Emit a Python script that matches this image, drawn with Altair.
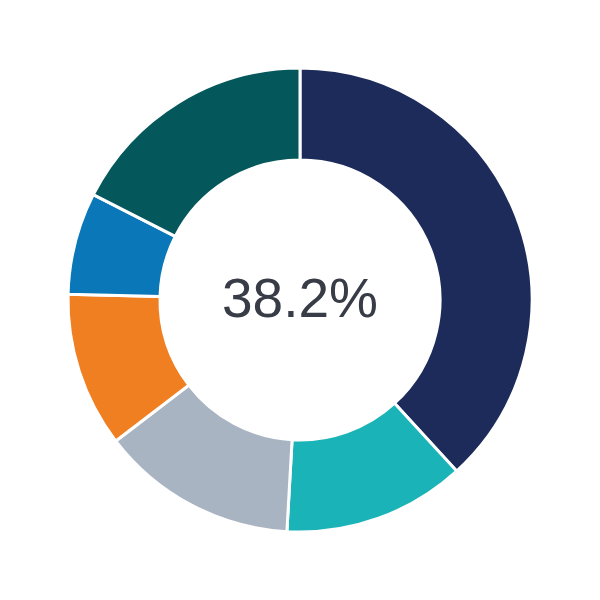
import pandas as pd
import altair as alt

# slices clockwise from 12 o'clock
segments = ["A", "B", "C", "D", "E", "F"]
shares = [38.2, 12.7, 13.7, 10.8, 7.1, 17.5]
colors = ["#1c2b5a", "#1ab3b7", "#a9b4c2", "#f07f22", "#0a77b8", "#04575a"]
center_label = "38.2%"

data = pd.DataFrame({"segment": segments, "share": shares, "order": range(len(segments))})

donut = alt.Chart(data).mark_arc(
    innerRadius=140, outerRadius=232, stroke="white", strokeWidth=3
).encode(
    theta=alt.Theta("share:Q", stack=True),
    order=alt.Order("order:Q"),
    color=alt.Color("segment:N", scale=alt.Scale(domain=segments, range=colors), legend=None),
)

label = alt.Chart(pd.DataFrame({"text": [center_label]})).mark_text(
    font="Liberation Sans", fontSize=55, color="#383c46", align="center", baseline="middle"
).encode(text="text:N")

chart = (donut + label).properties(
    width=584, height=584, autosize=alt.AutoSizeParams(type="fit", contains="padding")
).configure_view(stroke=None)

chart.save("out.html", embed_options={"renderer": "svg", "actions": False})
